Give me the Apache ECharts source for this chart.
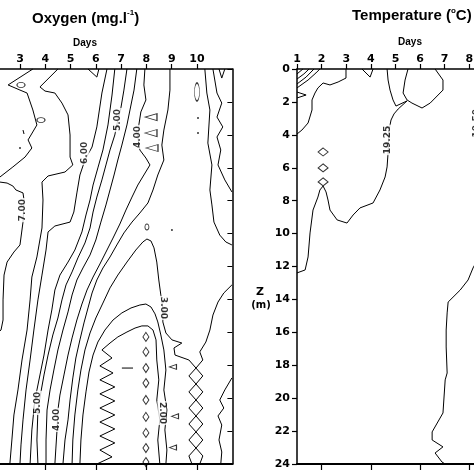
<!DOCTYPE html>
<html><head><meta charset="utf-8">
<script src="https://cdn.jsdelivr.net/npm/echarts@6/dist/echarts.min.js"></script>
<style>html,body{margin:0;padding:0;background:#fff}#c{width:474px;height:474px}</style>
</head><body><div id="c"></div>
<script>
// ---------- axis ticks ----------
const oxDayTicks = [1,2,3,4,5,6,7,8,9,10];
const tDayTicks = [1,2,3,4,5,6,7,8,9,10,11];
const minorDayTicks = [2,4,6,8,10];
const depthTicks = [0,2,4,6,8,10,12,14,16,18,20,22,24];

// ---------- Oxygen contours [day, depth m] ----------
const oxL1 = [[3.51,0],[2.53,0.97],[3.0,1.28],[3.28,1.46],[3.51,2.49],[3.67,3.4],[3.32,4.31],[3.47,4.8],[3.2,5.35],[2.72,5.95],[2.21,6.56],[1.97,6.74],[2.21,6.87],[2.49,6.93],[2.72,7.11],[2.84,7.35],[3.12,7.53],[3.16,7.96],[3.12,9.3],[3.0,10.69],[2.76,11.12],[2.49,11.73],[2.37,12.52],[2.33,14.03],[2.33,15.25],[2.25,15.86],[2.01,16.16]];
const oxB1 = [[4.5,0],[3.79,1.09],[3.99,1.34],[4.38,1.46],[4.66,2.07],[4.9,2.79],[4.98,4.01],[4.98,5.35],[5.09,5.83],[4.78,6.26],[4.11,6.5],[3.87,6.87],[3.91,7.96],[3.87,9.66],[3.67,11.42],[3.47,12.64],[3.4,14.03],[3.28,15.86],[3.08,17.68],[2.92,19.5],[2.76,21.02],[2.68,22.54],[2.6,24]];
const oxB2 = [[6.44,0],[6.24,1.46],[6.04,3.52],[5.85,4.74],[5.57,5.53],[5.37,6.44],[5.25,7.53],[5.13,8.69],[4.98,9.3],[4.38,9.54],[4.11,9.9],[4.03,11.0],[3.87,12.52],[3.71,14.03],[3.55,15.86],[3.4,17.68],[3.24,19.5],[3.12,21.32],[3.04,22.84],[3.0,24]];
const oxB3 = [[6.75,0],[6.64,1.58],[6.48,3.4],[6.28,4.92],[6.08,6.01],[5.89,7.05],[5.77,7.96],[5.61,8.87],[5.45,9.9],[5.17,11.0],[4.9,11.73],[4.58,12.52],[4.38,13.43],[4.26,14.64],[4.11,15.86],[3.95,17.38],[3.79,18.59],[3.59,20.11],[3.47,21.93],[3.4,24]];
const oxB4 = [[7.23,0],[7.11,1.28],[6.99,2.37],[6.87,3.1],[6.75,4.01],[6.56,4.92],[6.4,5.83],[6.24,6.74],[6.04,7.78],[5.89,8.69],[5.77,9.66],[5.57,10.57],[5.29,11.48],[5.06,12.33],[4.82,13.12],[4.66,14.03],[4.5,15.13],[4.3,16.16],[4.11,17.38],[3.95,18.59],[3.83,19.62],[3.71,20.72],[3.67,22.54],[3.71,24]];
const oxB5 = [[7.62,0],[7.51,1.28],[7.35,2.49],[7.23,3.4],[7.03,4.62],[6.87,5.53],[6.72,6.44],[6.56,7.35],[6.4,8.26],[6.2,9.3],[6.0,10.39],[5.77,11.3],[5.49,12.09],[5.25,12.82],[5.06,13.73],[4.9,14.76],[4.7,15.86],[4.5,17.07],[4.34,18.29],[4.19,19.5],[4.07,20.72],[4.03,22.54],[4.03,24]];
const oxB6 = [[7.94,0],[7.9,0.97],[7.98,1.88],[7.78,2.61],[7.7,3.4],[7.66,4.13],[7.74,4.92],[7.98,5.41],[8.14,5.83],[7.9,6.44],[7.66,7.05],[7.43,7.78],[7.19,8.57],[6.95,9.42],[6.68,10.27],[6.4,11.12],[6.16,11.85],[5.89,12.64],[5.65,13.43],[5.45,14.28],[5.25,15.25],[5.06,16.34],[4.9,17.38],[4.74,18.59],[4.58,19.81],[4.5,20.72],[4.46,22.05],[4.42,23.03],[4.38,24]];
const oxB7 = [[8.93,0],[8.93,1.28],[8.85,2.49],[8.69,3.71],[8.61,4.62],[8.69,5.53],[8.45,6.44],[8.26,7.35],[8.06,8.14],[7.74,8.75],[7.43,9.3],[7.11,9.96],[6.83,10.69],[6.56,11.42],[6.28,12.09],[6.04,12.82],[5.85,13.61],[5.69,14.52],[5.53,15.43],[5.37,16.46],[5.21,17.56],[5.09,18.77],[4.98,20.11],[4.9,21.32],[4.78,22.54],[4.7,24]];
const oxT1 = [[5.06,24],[5.09,22.54],[5.17,21.02],[5.29,19.5],[5.41,18.29],[5.57,17.07],[5.77,16.04],[6.0,15.13],[6.28,14.22],[6.56,13.3],[6.87,12.52],[7.23,11.73],[7.58,11.0],[7.86,10.51],[8.02,10.33],[8.18,10.45],[8.3,10.87],[8.41,11.73],[8.49,12.82],[8.57,13.73],[8.65,14.52],[8.65,15.37],[8.77,16.04],[9.01,16.46],[9.4,16.65],[9.09,16.95],[9.13,17.38],[9.68,17.68],[9.96,18.17],[9.68,18.65],[9.96,19.14],[9.68,19.62],[9.96,20.11],[9.68,20.6],[9.96,21.08],[9.68,21.57],[9.96,22.05],[9.68,22.54],[9.96,23.03],[9.68,23.51],[9.8,24]];
const oxT2 = [[5.37,24],[5.41,22.54],[5.49,21.02],[5.61,19.62],[5.73,18.41],[5.89,17.38],[6.08,16.59],[6.36,15.86],[6.68,15.25],[7.03,14.82],[7.39,14.52],[7.74,14.34],[7.98,14.28],[8.18,14.46],[8.34,14.88],[8.45,15.37],[8.57,16.16],[8.69,17.07],[8.77,18.29],[8.69,19.5],[8.81,20.72],[8.73,21.93],[8.81,23.15],[8.77,24]];
const oxT3 = [[6.04,24],[6.64,23.57],[6.16,23.15],[6.75,22.72],[6.16,22.3],[6.75,21.87],[6.16,21.45],[6.75,21.02],[6.16,20.6],[6.75,20.17],[6.16,19.74],[6.75,19.32],[6.16,18.89],[6.68,18.47],[6.16,18.04],[6.64,17.56],[6.24,17.07],[6.56,16.65],[6.87,16.28],[7.23,15.98],[7.55,15.74],[7.82,15.61],[8.06,15.61],[8.26,15.86],[8.38,16.46],[8.41,17.68],[8.49,18.89],[8.41,20.11],[8.53,21.32],[8.45,22.54],[8.53,24]];
const oxRA = [[10.31,0],[10.39,1.46],[10.51,2.49],[10.43,4.5],[10.59,5.83],[10.51,7.35],[10.59,8.26],[10.67,9.3],[10.9,10.09],[11.14,10.51],[11.38,10.69]];
const oxRB = [[10.63,0],[10.79,1.46],[10.98,2.07],[10.79,2.92],[11.02,3.52],[10.79,4.13],[10.94,4.92],[10.83,5.83],[11.1,6.74],[11.38,7.47]];
const oxRC = [[11.38,13.12],[11.06,13.61],[10.83,14.16],[10.63,14.95],[10.51,15.86],[10.35,16.59],[10.11,17.19],[10.23,17.68],[9.96,18.17],[10.23,18.65],[9.96,19.14],[10.23,19.62],[9.96,20.11],[10.23,20.6],[9.96,21.08],[10.23,21.57],[9.96,22.05],[10.23,22.54],[9.96,23.03],[10.23,23.51],[10.11,24]];
const oxRD = [[11.38,18.77],[11.1,19.5],[10.9,20.11],[11.06,20.6],[10.83,21.08],[10.98,21.63],[10.87,22.54],[10.98,23.27],[10.94,24]];
const oxNotch = [[5.69,0],[6.04,0.49],[6.12,0]];
const oxNotch2 = [[10.87,0],[10.98,0.55],[11.1,0]];
const oxDash = [[7.03,18.17],[7.47,18.17]];
const oxTick = [[3.12,3.71],[3.16,3.95]];
// small closed contours: [day, depth]
const oxDiamonds = [[7.98,16.28],[7.98,17.19],[7.98,18.17],[7.98,19.08],[7.98,20.11],[7.98,21.14],[7.98,22.11],[7.98,23.03],[7.98,23.88]];
const oxTriangles = [[8.18,2.92],[8.18,3.89],[8.22,4.8]];
const oxSmallTri = [[9.05,18.1],[9.13,21.1],[9.05,23.0]];
const oxLoops = [[3.04,0.97],[3.83,3.1],[10.0,1.4],[8.02,9.6]];
const oxDots = [[10.04,2.98],[10.04,3.89],[9.01,9.78],[3.0,4.8]];
// contour labels [day, depth, text]
const oxLabelsUp = [[3.12,8.57,'7.00'],[5.57,5.1,'6.00'],[6.87,3.1,'5.00'],[7.66,4.13,'4.00'],[3.71,20.29,'5.00'],[4.46,21.32,'4.00']];
const oxLabelsDown = [[8.65,14.52,'3.00'],[8.61,20.9,'2.00']];

// ---------- Temperature contours ----------
const tC1 = [[1.0,0.3],[1.24,0]];
const tC2 = [[1.0,0.61],[1.28,0.3],[1.49,0]];
const tC3 = [[1.0,0.91],[1.37,0.49],[1.69,0]];
const tC4 = [[1.0,1.15],[1.45,0.67],[1.77,0.24],[1.93,0]];
const tSpike = [[1.0,1.4],[1.37,1.58],[1.0,1.76]];
const tR3 = [[2.99,0],[2.99,0.55],[2.67,0.79],[2.34,0.97],[2.06,0.85],[1.85,1.15],[1.73,1.46],[1.61,1.88],[1.61,2.49],[1.45,3.28],[1.2,3.71],[1.0,3.95]];
const tR4 = [[3.64,0],[3.97,0.49],[4.09,0]];
const tR6 = [[5.51,0],[5.39,0.67],[5.31,1.46],[5.47,1.88],[5.67,2.07],[6.08,2.37],[6.41,2.07],[6.93,1.28],[6.93,0.67],[6.61,0]];
const tR5 = [[4.66,0],[4.7,0.67],[4.78,1.28],[4.9,1.88],[5.02,2.25],[5.47,1.94],[5.11,2.43],[4.94,2.73],[4.82,3.1],[4.74,3.71],[4.7,5.1],[4.66,5.95],[4.58,6.56],[4.37,7.35],[4.09,8.14],[3.56,8.44],[3.28,8.87],[3.03,9.36],[2.63,9.17],[2.34,8.57],[2.26,7.96],[2.18,7.47],[2.06,7.11],[1.93,7.35],[1.85,7.78],[1.65,8.57],[1.53,9.96],[1.45,11.42],[1.33,12.21],[1.0,12.39]];
const tR7 = [[8.85,10.39],[8.44,11.3],[8.15,12.09],[7.95,12.82],[7.63,13.43],[7.14,14.16],[7.1,14.82],[7.06,15.86],[7.06,16.89],[7.1,18.47],[7.02,18.89],[6.93,20.9],[6.49,22.05],[6.49,22.54],[6.93,22.96],[6.61,23.33],[6.89,23.88],[7.02,24]];
const tDiamonds = [[2.06,5.04],[2.06,6.01],[2.06,6.86]];
const tLabelsUp = [[4.7,4.31,'19.25'],[8.28,3.3,'19.50']];

const oxLines = [oxL1,oxB1,oxB2,oxB3,oxB4,oxB5,oxB6,oxB7,oxT1,oxT2,oxT3,oxRA,oxRB,oxRC,oxRD,oxNotch,oxNotch2,oxDash,oxTick];
const tLines = [tC1,tC2,tC3,tC4,tSpike,tR3,tR4,tR6,tR5,tR7];

const chart = echarts.init(document.getElementById('c'), null, {renderer:'canvas'});
const black = '#000';
const tickFont = {color:black, fontSize:11, fontWeight:'bold', fontFamily:'DejaVu Sans'};

function lineSeries(d, gi){
  return {type:'line', xAxisIndex:gi*2, yAxisIndex:gi, data:d, symbol:'none', showSymbol:false,
    lineStyle:{color:black, width:1}, silent:true, z:3, clip:true};
}
function symSeries(d, gi, symbol, size, rot){
  return {type:'scatter', xAxisIndex:gi*2, yAxisIndex:gi, data:d, symbol:symbol, symbolSize:size, symbolRotate:rot||0,
    itemStyle:{color:'rgba(255,255,255,0)', borderColor:black, borderWidth:1}, silent:true, z:3};
}
function labelSeries(d, gi, rot){
  return {type:'scatter', xAxisIndex:gi*2, yAxisIndex:gi, data:d, symbolSize:1, itemStyle:{color:'rgba(0,0,0,0)'}, silent:true, z:5,
    label:{show:true, position:'inside', rotate:rot, formatter:p=>p.value[2], color:black, fontSize:9, fontWeight:'bold',
      fontFamily:'DejaVu Sans', backgroundColor:'#fff', padding:[0,1]}};
}

const series = [];
oxLines.forEach(d=>series.push(lineSeries(d,0)));
tLines.forEach(d=>series.push(lineSeries(d,1)));
series.push(symSeries(oxDiamonds,0,'diamond',[6,9]));
series.push(symSeries(oxTriangles,0,'triangle',[7,12],90));
series.push(symSeries(oxSmallTri,0,'triangle',[5,7],90));
series.push(symSeries(oxLoops.slice(0,2),0,'circle',[8,5]));
series.push(symSeries(oxLoops.slice(2,3),0,'circle',[5,18]));
series.push(symSeries(oxLoops.slice(3),0,'circle',[4,6]));
series.push({type:'scatter', xAxisIndex:0, yAxisIndex:0, data:oxDots, symbolSize:2, itemStyle:{color:black}, silent:true});
series.push(symSeries(tDiamonds,1,'diamond',[10,8]));
series.push(labelSeries(oxLabelsUp,0,90));
series.push(labelSeries(oxLabelsDown,0,-90));
series.push(labelSeries(tLabelsUp,1,90));

function xTop(gi, ticks){
  return {type:'value', gridIndex:gi, position:'top', min:1, max:11.4,
    axisLine:{show:true, onZero:false, lineStyle:{color:black, width:1.5}},
    axisTick:{show:true, customValues:ticks, length:5, lineStyle:{color:black, width:1.2}},
    axisLabel:{show:true, customValues:ticks, margin:4, ...tickFont},
    splitLine:{show:false}};
}
function xBottom(gi){
  return {type:'value', gridIndex:gi, position:'bottom', min:1, max:11.4,
    axisLine:{show:true, onZero:false, lineStyle:{color:black, width:2}},
    axisTick:{show:true, customValues:minorDayTicks, length:6, lineStyle:{color:black, width:1.2}},
    axisLabel:{show:false}, splitLine:{show:false}};
}

chart.setOption({
  backgroundColor:'#fff',
  animation:false,
  grid:[{left:-30.6, top:69, width:263, height:395, containLabel:false, outerBoundsMode:'none'},
        {left:297, top:69, width:256, height:395, containLabel:false, outerBoundsMode:'none'}],
  xAxis:[xTop(0,oxDayTicks), xBottom(0), xTop(1,tDayTicks), xBottom(1)],
  yAxis:[
    {type:'value', gridIndex:0, position:'right', inverse:true, min:0, max:24, interval:2,
     axisLine:{show:true, onZero:false, lineStyle:{color:black, width:1.5}},
     axisTick:{show:true, inside:true, length:5, lineStyle:{color:black}},
     axisLabel:{show:false}, splitLine:{show:false}},
    {type:'value', gridIndex:1, position:'left', inverse:true, min:0, max:24, interval:2,
     axisLine:{show:true, onZero:false, lineStyle:{color:black, width:1.5}},
     axisTick:{show:true, length:5, lineStyle:{color:black, width:1.2}},
     axisLabel:{show:true, margin:7, showMinLabel:true, showMaxLabel:true, ...tickFont},
     splitLine:{show:false}}
  ],
  graphic:[
    {type:'text', x:32, y:19, style:{text:'{a|Oxygen (mg.l}{b|-1}{a|)}', verticalAlign:'middle',
      rich:{a:{fontSize:15, fontWeight:'bold', fontFamily:'Liberation Sans', fill:black},
            b:{fontSize:8, fontWeight:'bold', fontFamily:'Liberation Sans', fill:black, padding:[0,0,12,0]}}}},
    {type:'text', x:352, y:16, style:{text:'{a|Temperature (}{b|o}{a|C)}', verticalAlign:'middle',
      rich:{a:{fontSize:15, fontWeight:'bold', fontFamily:'Liberation Sans', fill:black},
            b:{fontSize:8, fontWeight:'bold', fontFamily:'Liberation Sans', fill:black, padding:[0,0,10,0]}}}},
    {type:'text', x:85, y:43, style:{text:'Days', align:'center', verticalAlign:'middle', fontSize:10, fontWeight:'bold', fontFamily:'Liberation Sans', fill:black}},
    {type:'text', x:410, y:42, style:{text:'Days', align:'center', verticalAlign:'middle', fontSize:10, fontWeight:'bold', fontFamily:'Liberation Sans', fill:black}},
    {type:'text', x:260, y:292, style:{text:'Z', align:'center', verticalAlign:'middle', fontSize:11, fontWeight:'bold', fontFamily:'DejaVu Sans', fill:black}},
    {type:'text', x:261, y:305, style:{text:'(m)', align:'center', verticalAlign:'middle', fontSize:10, fontWeight:'bold', fontFamily:'DejaVu Sans', fill:black}}
  ],
  series: series
});
</script></body></html>
